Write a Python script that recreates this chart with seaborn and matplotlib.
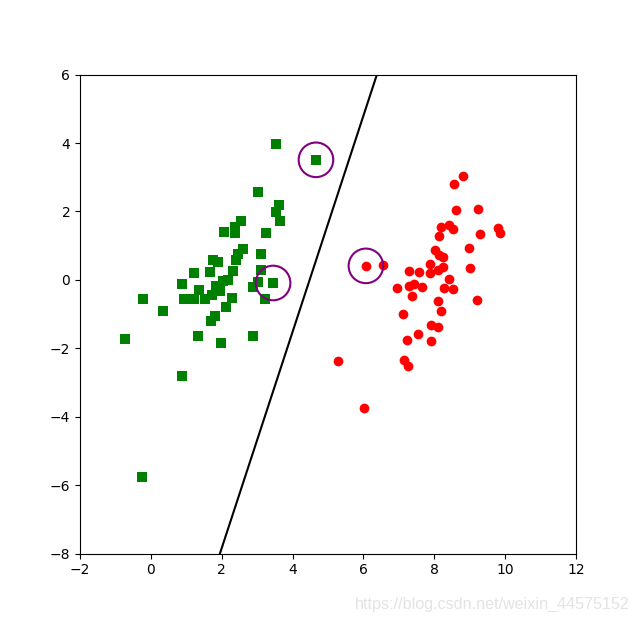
import numpy as np
import pandas as pd
import matplotlib
matplotlib.use("Agg")
import matplotlib.pyplot as plt
import seaborn as sns

# class -1 (green squares)
neg_x = [3.53, 3.03, 3.62, 3.53, 3.65, 2.54, 2.37, 2.37, 2.06, 3.25,
         2.60, 3.11, 2.46, 2.40, 1.75, 1.90, 3.11, 2.32, 1.22, 1.67,
         0.88, 2.18, 2.04, 1.84, 1.95, 1.73, 1.53, 1.36, 1.22, 0.94,
         2.29, 2.12, 2.88, 3.02, 3.45, 3.22, -0.22, 0.34, -0.73, 1.33,
         1.98, 2.88, 0.88, 1.70, 1.81, -0.25, 4.66]
neg_y = [3.97, 2.57, 2.19, 1.99, 1.72, 1.72, 1.55, 1.37, 1.40, 1.37,
         0.90, 0.76, 0.76, 0.58, 0.58, 0.52, 0.29, 0.26, 0.20, 0.23,
         -0.12, 0.00, -0.03, -0.18, -0.33, -0.44, -0.56, -0.30, -0.56, -0.56,
         -0.53, -0.79, -0.21, -0.06, -0.09, -0.56, -0.56, -0.91, -1.73, -1.64,
         -1.84, -1.64, -2.81, -1.20, -1.06, -5.76, 3.51]

# class +1 (red circles)
pos_x = [8.81, 8.56, 8.61, 9.23, 8.19, 8.41, 8.53, 8.13, 9.29, 9.80,
         9.85, 8.98, 8.02, 8.13, 8.25, 7.88, 8.25, 8.10, 9.01, 7.29,
         7.57, 7.88, 6.07, 6.55, 8.41, 6.95, 7.29, 7.43, 7.65, 8.27,
         8.53, 7.37, 9.20, 8.10, 8.19, 7.12, 7.91, 8.10, 7.54, 7.23,
         7.91, 5.28, 7.15, 7.26, 6.02]
pos_y = [3.04, 2.80, 2.04, 2.07, 1.55, 1.60, 1.49, 1.28, 1.34, 1.51,
         1.37, 0.93, 0.87, 0.73, 0.67, 0.47, 0.38, 0.29, 0.35, 0.26,
         0.23, 0.20, 0.41, 0.43, 0.03, -0.24, -0.18, -0.12, -0.21, -0.24,
         -0.27, -0.47, -0.59, -0.62, -0.91, -1.00, -1.32, -1.38, -1.58, -1.76,
         -1.79, -2.37, -2.34, -2.52, -3.74]

# support vectors
sv_x = [4.66, 3.45, 6.07]
sv_y = [3.51, -0.09, 0.41]

# separating line y = slope * x + intercept
slope = 3.16
intercept = -14.16

fig, ax = plt.subplots(figsize=(6.4, 6.22), dpi=100)

sns.scatterplot(x=neg_x, y=neg_y, marker="s", color="green", s=49,
                linewidth=0, ax=ax)
sns.scatterplot(x=pos_x, y=pos_y, marker="o", color="red", s=49,
                linewidth=0, ax=ax)
sns.scatterplot(x=sv_x, y=sv_y, marker="o", s=620, facecolors="none",
                edgecolor="purple", linewidth=1.5, ax=ax)

line_x = np.linspace(-2, 12, 200)
line = pd.DataFrame({"x": line_x, "y": slope * line_x + intercept})
sns.lineplot(data=line, x="x", y="y", color="black", linewidth=1.5, ax=ax)

ax.set_xlim(-2, 12)
ax.set_ylim(-8, 6)
ax.set_xlabel("")
ax.set_ylabel("")

fig.text(0.984, 0.028, "https://blog.csdn.net/weixin_44575152", ha="right",
         va="center", color="#e3e3e3", fontsize=11.6, family="Liberation Sans")

fig.savefig("out.png", dpi=100)
